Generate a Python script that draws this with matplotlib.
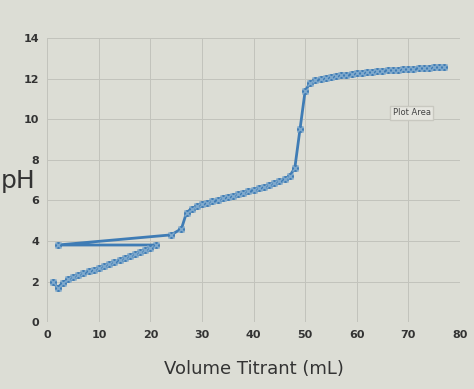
import numpy as np
import matplotlib.pyplot as plt

# titration data (order kept as plotted)
volume = [1, 2, 3, 4, 5, 6, 7, 8, 9, 10, 11, 12, 13, 14, 15, 16, 17, 18, 19, 20, 21,
          2, 24, 26, 27, 28, 29, 30, 31, 32, 33, 34, 35, 36, 37, 38, 39, 40, 41, 42, 43,
          44, 45, 46, 47, 48, 49, 50, 51, 52, 53, 54, 55, 56, 57, 58, 59, 60, 61, 62,
          63, 64, 65, 66, 67, 68, 69, 70, 71, 72, 73, 74, 75, 76, 77]
ph = [2.0, 1.7, 1.95, 2.1, 2.2, 2.3, 2.4, 2.5, 2.55, 2.65, 2.75, 2.85, 2.95, 3.05, 3.15,
      3.25, 3.35, 3.45, 3.55, 3.65, 3.8,
      3.8, 4.3, 4.6, 5.4, 5.6, 5.7, 5.8, 5.85, 5.95, 6.0, 6.1, 6.15, 6.2, 6.3, 6.35, 6.45,
      6.5, 6.6, 6.65, 6.75, 6.85, 6.95, 7.05, 7.2, 7.6, 9.5, 11.4, 11.8, 11.95, 12.0,
      12.05, 12.1, 12.15, 12.2, 12.2, 12.25, 12.3, 12.3, 12.35, 12.35, 12.4, 12.4, 12.45,
      12.45, 12.45, 12.5, 12.5, 12.5, 12.55, 12.55, 12.55, 12.6, 12.6, 12.6]

x_ticks = [0, 10, 20, 30, 40, 50, 60, 70, 80]
y_ticks = [0, 2, 4, 6, 8, 10, 12, 14]

bg = "#dcddd5"
blue = "#3f7cb5"

fig = plt.figure(figsize=(4.74, 3.89), dpi=100, facecolor=bg)
ax = fig.add_axes([0.1, 0.172, 0.87, 0.73], facecolor=bg)

ax.plot(volume, ph, color=blue, linewidth=2, marker="o", markersize=4,
        markerfacecolor=blue, markeredgecolor=blue, zorder=3)
ax.plot(volume, ph, linestyle="none", marker="x", markersize=4,
        color="#7fa9cc", markeredgewidth=1, zorder=4)

ax.set_xlim(0, 80)
ax.set_ylim(0, 14)
ax.set_xticks(x_ticks)
ax.set_yticks(y_ticks)
ax.grid(True, color="#c2c3bc", linewidth=0.7)
ax.set_axisbelow(True)
for s in ax.spines.values():
    s.set_visible(False)
ax.tick_params(length=0, labelsize=8, pad=6)
for lab in ax.get_xticklabels() + ax.get_yticklabels():
    lab.set_fontweight("bold")
    lab.set_color("#333333")

ax.set_xlabel("Volume Titrant (mL)", fontsize=13, color="#333333", labelpad=14)
fig.text(0.002, 0.535, "pH", fontsize=18, color="#333333", va="center")

ax.text(67, 10.2, "Plot Area", fontsize=6, color="#444444",
        bbox=dict(boxstyle="square,pad=0.3", facecolor="#e6e6e0", edgecolor="#c8c8c0"))

fig.savefig("out.png", dpi=100, facecolor=bg)
